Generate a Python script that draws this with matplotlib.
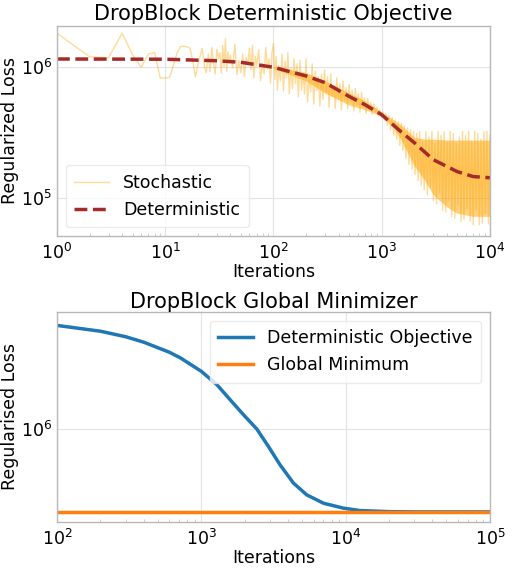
import numpy as np
import matplotlib
matplotlib.use('Agg')
import matplotlib.pyplot as plt
from matplotlib.ticker import LogLocator, NullFormatter

# ---- top panel: stochastic vs deterministic (loss values in units of 1e5) ----
stoch_iter = [1, 2, 3, 4, 5, 6, 7, 8, 9, 10, 11, 12, 13, 14, 15, 16, 17, 18, 19, 20,
              21, 22, 23, 24, 25, 26, 27, 28, 29, 30, 31, 32, 33, 34, 35, 36, 37, 38, 39, 40,
              42, 44, 46, 48, 50, 52, 54, 56, 58, 60, 62, 64, 66, 68, 70, 73, 76, 79, 82, 85,
              88, 91, 94, 97, 100, 103, 106, 109, 112, 116, 120, 124, 128, 132, 136, 140, 145, 150, 155, 160,
              165, 170, 176, 182, 188, 194, 200, 207, 214, 221, 228, 236, 244, 252, 260, 269, 278, 287, 296, 306,
              316, 327, 338, 349, 361, 373, 385, 398, 411, 425, 439, 454, 469, 485, 501, 518, 535, 553, 571, 590,
              610, 630, 651, 673, 695, 718, 742, 767, 792, 818, 845, 873, 902, 932, 963, 995, 1028, 1062, 1097, 1133,
              1171, 1210, 1250, 1291, 1334, 1378, 1424, 1471, 1520, 1570, 1622, 1676, 1731, 1788, 1847, 1908, 1971, 2036, 2103, 2173,
              2245, 2319, 2396, 2475, 2557, 2641, 2729, 2819, 2912, 3008, 3107, 3210, 3316, 3426, 3539, 3656, 3777, 3902, 4031, 4164,
              4302, 4444, 4591, 4743, 4900, 5062, 5229, 5402, 5580, 5765, 5955, 6152, 6356, 6566, 6783, 7007, 7239, 7478, 7725, 7981,
              8245, 8517, 8799, 9090, 9390, 9700, 10000]
stoch_loss = [18.0, 11.9, 11.7, 18.0, 12.3, 9.9, 12.5, 12.8, 8.2, 8.2, 8.3, 10.5, 13.0, 14.3, 14.3, 14.2, 13.8, 11.0, 8.4, 10.2,
              12.0, 13.8, 10.0, 9.0, 12.5, 9.2, 14.0, 10.5, 8.8, 13.5, 11.5, 12.8, 8.9, 14.5, 10.0, 16.3, 9.2, 13.0, 10.6, 12.2,
              9.8, 14.8, 8.7, 11.2, 9.0, 12.5, 8.4, 11.8, 10.2, 13.8, 9.5, 14.6, 8.2, 12.0, 10.1, 13.5, 7.8, 10.6, 8.8, 14.0,
              9.6, 11.5, 7.5, 12.8, 15.0, 8.0, 12.0, 6.6, 10.2, 7.8, 12.5, 6.5, 11.0, 8.2, 12.8, 6.2, 9.8, 6.8, 11.5, 7.4,
              10.5, 5.9, 11.2, 6.6, 9.0, 6.2, 11.5, 5.4, 8.6, 6.4, 10.5, 5.2, 9.2, 6.6, 8.4, 5.0, 8.8, 5.6, 9.5, 6.2,
              8.4, 4.9, 8.8, 5.9, 7.2, 4.8, 8.2, 5.6, 7.4, 4.7, 7.8, 5.5, 6.9, 4.8, 7.3, 5.4, 6.6, 4.6, 6.8, 5.1,
              6.2, 4.5, 6.4, 4.9, 5.8, 4.4, 5.7, 4.7, 5.3, 4.3, 5.2, 4.5, 4.9, 4.2, 4.7, 4.1, 4.5, 3.9, 4.4, 3.6,
              4.2, 3.3, 4.1, 3.0, 3.9, 2.8, 3.8, 2.5, 3.7, 2.3, 3.5, 2.0, 3.4, 1.8, 3.3, 1.65, 3.2, 1.5, 3.1, 1.35,
              3.2, 1.25, 2.7, 1.15, 3.2, 1.05, 2.9, 1.2, 3.2, 0.95, 2.6, 0.9, 3.2, 1.1, 3.0, 0.8, 3.2, 0.78, 2.7, 0.95,
              3.2, 0.72, 3.1, 0.7, 2.6, 0.88, 2.9, 0.66, 3.2, 0.68, 3.0, 0.82, 3.2, 0.66, 2.7, 0.62, 3.2, 0.8, 3.1, 0.62,
              2.8, 0.64, 3.2, 0.75, 3.2, 0.63, 3.0]

# dense part of the stochastic trace (solid band)
band_iter = [100, 200, 300, 500, 700, 1000, 1300, 1500, 2000, 2500, 3000, 4000, 5000, 7000, 10000]
band_lo = [9.7, 7.8, 6.3, 5.1, 4.7, 4.2, 3.4, 2.8, 1.75, 1.35, 1.05, 0.85, 0.76, 0.72, 0.72]
band_hi = [10.1, 9.0, 7.8, 6.3, 5.5, 4.5, 3.9, 3.6, 2.9, 2.8, 2.8, 2.75, 2.75, 2.75, 2.75]

det_iter = [1, 10, 30, 50, 100, 200, 300, 500, 700, 1000, 1500, 2000, 3000, 5000, 7000, 10000]
det_loss = [11.45, 11.4, 11.1, 10.8, 9.9, 8.5, 7.55, 5.93, 5.13, 4.3, 3.2, 2.63, 1.95, 1.58, 1.45, 1.42]

# ---- bottom panel: deterministic objective vs global minimum ----
obj_iter = [100, 200, 300, 400, 600, 715, 1000, 1282, 1585, 1960, 2427, 2918, 3516, 4355, 5387,
            7020, 9660, 12600, 20000, 30000, 50000, 100000]
obj_loss = [1.886e6, 1.820e6, 1.759e6, 1.701e6, 1.600e6, 1.546e6, 1.423e6, 1.311e6, 1.195e6, 1.090e6,
            9.98e5, 8.97e5, 8.01e5, 7.16e5, 6.66e5, 6.33e5, 6.14e5, 6.05e5, 6.01e5, 6.0e5, 6.0e5, 6.0e5]
global_min = 6.0e5

FS = 12.5


def style_axes(ax):
    ax.set_xscale('log')
    ax.set_yscale('log')
    for s in ax.spines.values():
        s.set_color('#b8b8b8')
        s.set_linewidth(1.0)
    ax.grid(True, which='major', color='#e3e3e3', linewidth=0.8)
    ax.set_axisbelow(True)
    ax.tick_params(which='major', length=0, labelsize=FS, pad=5)
    ax.tick_params(axis='y', which='major', pad=3.5)
    ax.tick_params(axis='x', which='minor', length=2.5, color='#c8c8c8', direction='in')
    ax.tick_params(axis='y', which='minor', length=0)
    ax.yaxis.set_minor_formatter(NullFormatter())
    ax.xaxis.set_minor_formatter(NullFormatter())


def main():
    fig = plt.figure(figsize=(5.13, 5.68), dpi=100)

    ax1 = fig.add_axes([0.111, 0.5845, 0.844, 0.370])
    style_axes(ax1)
    ax1.fill_between(band_iter, np.array(band_lo) * 1e5, np.array(band_hi) * 1e5,
                     color='orange', alpha=0.5, linewidth=0)
    ax1.plot(stoch_iter, np.array(stoch_loss) * 1e5, color='orange', alpha=0.4, linewidth=1,
             label='Stochastic')
    ax1.plot(det_iter, np.array(det_loss) * 1e5, '--', color='#a52a2a', linewidth=2.5,
             label='Deterministic')
    ax1.set_xlim(1, 1e4)
    ax1.set_ylim(5.1e4, 2.05e6)
    ax1.xaxis.set_major_locator(LogLocator(base=10, numticks=10))
    ax1.set_title('DropBlock Deterministic Objective', fontsize=15, pad=4)
    ax1.set_xlabel('Iterations', fontsize=FS, labelpad=0)
    ax1.set_ylabel('Regularized Loss', fontsize=FS)
    ax1.yaxis.set_label_coords(-0.087, 0.5)
    ax1.legend(loc='lower left', fontsize=FS, framealpha=0.8, edgecolor='#e6e6e6', borderpad=0.5)

    ax2 = fig.add_axes([0.111, 0.081, 0.844, 0.370])
    style_axes(ax2)
    ax2.plot(obj_iter, obj_loss, color='#1f77b4', linewidth=2.5, label='Deterministic Objective')
    ax2.plot([obj_iter[0], obj_iter[-1]], [global_min, global_min], color='#ff7f0e',
             linewidth=2.5, label='Global Minimum')
    ax2.set_xlim(1e2, 1e5)
    ax2.set_ylim(5.64e5, 2.05e6)
    ax2.set_title('DropBlock Global Minimizer', fontsize=15, pad=3)
    ax2.set_xlabel('Iterations', fontsize=FS, labelpad=0)
    ax2.set_ylabel('Regularised Loss', fontsize=FS)
    ax2.yaxis.set_label_coords(-0.087, 0.5)
    ax2.legend(loc='upper right', fontsize=FS, framealpha=0.8, edgecolor='#e6e6e6', borderpad=0.5)

    fig.savefig('out.png', dpi=100)
    plt.close(fig)


if __name__ == '__main__':
    main()
